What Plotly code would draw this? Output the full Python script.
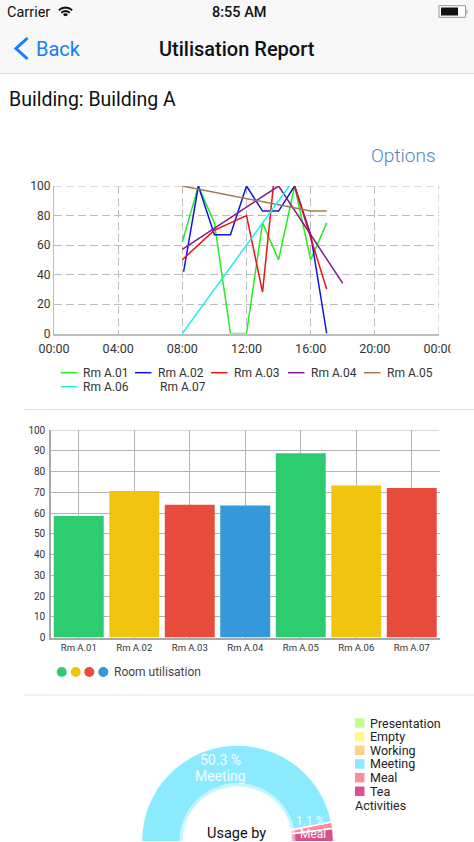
import numpy as np
import plotly.graph_objects as go

FIG_W = 474
FIG_H = 842
FONT = "Roboto"

# line chart
hours_a01 = [8, 9, 10, 11, 12, 13, 14, 15, 16, 17]
util_a01 = [62, 100, 75, 0, 0, 75, 50, 100, 50, 75]
hours_a02 = [8.08, 9, 10, 11, 12, 13, 14, 15, 16, 17]
util_a02 = [42, 100, 67, 67, 100, 83, 83, 100, 67, 0]
hours_a03 = [8, 9, 10, 11, 12, 13, 14, 15, 16, 17]
util_a03 = [50, 60, 70, 75, 80, 28, 135, 100, 65, 30]
hours_a04 = [8, 14, 18]
util_a04 = [57, 100, 34]
hours_a05 = [8, 16, 17]
util_a05 = [100, 83, 83]
hours_a06 = [8, 15]
util_a06 = [0, 105]
line_colors = ["#22ee22", "#1111ee", "#ee1111", "#7f1a8c", "#a5794f", "#22eeee", "#ffffff"]
hour_ticks = [0, 4, 8, 12, 16, 20, 24]
hour_labels = ["00:00", "04:00", "08:00", "12:00", "16:00", "20:00", "00:00"]

# bar chart
rooms = ["Rm A.01", "Rm A.02", "Rm A.03", "Rm A.04", "Rm A.05", "Rm A.06", "Rm A.07"]
room_util = [58.6, 70.6, 64, 63.6, 88.8, 73.2, 72]
bar_colors = ["#2ecc71", "#f1c40f", "#e74c3c", "#3498db", "#2ecc71", "#f1c40f", "#e74c3c"]

# donut, only the top half can be read, the other shares are guesses
activities = ["Presentation", "Empty", "Working", "Meeting", "Meal", "Tea"]
activity_share = [24.0, 12.0, 6.0, 50.3, 1.1, 6.6]
activity_colors = ["#c0ff8c", "#fff78c", "#ffd08c", "#8ceaff", "#ff8c9d", "#d9508a"]


def px(x):
    return x / FIG_W


def py(y):
    return 1 - y / FIG_H


fig = go.Figure()

series = [(hours_a01, util_a01), (hours_a02, util_a02), (hours_a03, util_a03),
          (hours_a04, util_a04), (hours_a05, util_a05), (hours_a06, util_a06)]
for i, (hrs, vals) in enumerate(series):
    fig.add_trace(go.Scatter(x=hrs, y=vals, mode="lines", name=rooms[i], xaxis="x", yaxis="y",
                             line=dict(color=line_colors[i], width=1.5), showlegend=False))

fig.add_trace(go.Bar(x=rooms, y=room_util, xaxis="x2", yaxis="y2", marker=dict(color=bar_colors, line_width=0),
                     width=0.9, showlegend=False))

# donut as polar bars: a half sector lets the ring run off the bottom of the page
share = np.array(activity_share)
widths = share / share.sum() * 360
ends = -102.5 - widths[:3].sum() + np.cumsum(widths)
mids = ends - widths / 2
fig.add_trace(go.Barpolar(theta=mids, width=widths, r=[1] * len(widths), subplot="polar", name="Activities",
                          marker=dict(color=activity_colors, line=dict(color="white", width=1.5)),
                          showlegend=False, hoverinfo="skip"))
# paler inner rim of the ring
fig.add_trace(go.Barpolar(theta=[0], width=[180], r=[4 / 42], subplot="polar",
                          marker=dict(color="rgba(255,255,255,0.5)", line_width=0),
                          showlegend=False, hoverinfo="skip"))

grid = "#bdbdbd"
bar_grid = "#b4b4b4"
grid_dash = "8px,4px"
shapes = [
    # nav bar
    dict(type="rect", xref="paper", yref="paper", x0=0, x1=1, y0=py(73), y1=py(0), fillcolor="#f8f8f8", line_width=0, layer="below"),
    dict(type="line", xref="paper", yref="paper", x0=0, x1=1, y0=py(73.5), y1=py(73.5), line=dict(color="#dcdcdc", width=1)),
    # section dividers
    dict(type="line", xref="paper", yref="paper", x0=px(24), x1=1, y0=py(409.5), y1=py(409.5), line=dict(color="#e4e4e4", width=1)),
    dict(type="line", xref="paper", yref="paper", x0=px(24), x1=1, y0=py(695), y1=py(695), line=dict(color="#e4e4e4", width=1)),
    # line chart canvas stops here and cuts the last tick label
    dict(type="rect", xref="paper", yref="paper", x0=px(450.5), x1=1, y0=py(355), y1=py(337), fillcolor="white", line_width=0),
    # grid lines on the range ends, plotly leaves these out
    dict(type="line", xref="x", yref="y", x0=0, x1=24, y0=100, y1=100, line=dict(color=grid, width=1, dash=grid_dash), layer="below"),
    dict(type="line", xref="x", yref="y", x0=24, x1=24, y0=0, y1=100, line=dict(color=grid, width=1, dash=grid_dash), layer="below"),
    dict(type="line", xref="x2", yref="y2", x0=-0.5, x1=6.5, y0=100, y1=100, line=dict(color=bar_grid, width=1.2), layer="below"),
]


def add_path(points, color, width):
    d = "M " + " L ".join(f"{px(x):.5f},{py(y):.5f}" for x, y in points)
    shapes.append(dict(type="path", xref="paper", yref="paper", path=d, line=dict(color=color, width=width)))


# back chevron
add_path([(27.5, 38), (16, 48.5), (27.5, 59)], "#147efb", 3)

# wifi glyph
for rad, w in [(9.5, 2.0), (6, 2.0), (2.5, 2.6)]:
    ang = np.radians(np.array([-45, -22, 0, 22, 45]))
    add_path(list(zip(65.5 + rad * np.sin(ang), 17 - rad * np.cos(ang))), "#111111", w)

# battery
shapes.append(dict(type="rect", xref="paper", yref="paper", x0=px(439), x1=px(465.5), y0=py(17.3), y1=py(5.7),
                   line=dict(color="#999999", width=1), fillcolor="white"))
shapes.append(dict(type="rect", xref="paper", yref="paper", x0=px(441), x1=px(458), y0=py(15.5), y1=py(7.5),
                   line_width=0, fillcolor="#111111"))
shapes.append(dict(type="rect", xref="paper", yref="paper", x0=px(466.5), x1=px(467.5), y0=py(14), y1=py(9.5),
                   line_width=0, fillcolor="#999999"))

# room utilisation legend dots
for dot_x, dot_color in zip([61.7, 75.7, 89.3, 103.3], bar_colors):
    shapes.append(dict(type="circle", xref="paper", yref="paper", x0=px(dot_x - 5), x1=px(dot_x + 5),
                       y0=py(672 + 5), y1=py(672 - 5), fillcolor=dot_color, line_width=0))


def label(x, y, text, size, color="#111111", anchor="left", weight=None):
    font = dict(family=FONT, size=size, color=color)
    if weight:
        font["weight"] = weight
    return dict(xref="paper", yref="paper", x=px(x), y=py(y), text=text, showarrow=False,
                xanchor=anchor, yanchor="middle", font=font, borderpad=0, borderwidth=0)


annotations = [
    label(7, 12, "Carrier", 14.5),
    label(239, 12, "8:55 AM", 14.5, anchor="center", weight=500),
    label(36, 48.5, "Back", 20, color="#147efb"),
    label(237, 48.5, "Utilisation Report", 20, anchor="center", weight=500),
    label(9, 99, "Building: Building A", 19.5),
    label(371, 155.5, "Options", 19, color="#4f86b8", weight=300),
    label(114, 672, "Room utilisation", 12, color="#444444"),
    label(236.7, 833, "Usage by", 14.5, anchor="center"),
    label(220, 760, "50.3 %", 14, color="#f4fdff", anchor="center"),
    label(220.5, 775.5, "Meeting", 14, color="#f4fdff", anchor="center"),
    label(310.5, 820.5, "1.1 %", 12, color="#f4fdff", anchor="center"),
    label(313, 834, "Meal", 12, color="#f4fdff", anchor="center"),
]

# line chart legend
legend_line_x = [60.7, 135, 211, 288, 364, 60.7]
legend_rows = [372.7, 372.7, 372.7, 372.7, 372.7, 386.7]
legend_text_x = [83, 157.5, 234, 310.5, 387, 83, 160]
for i, lx in enumerate(legend_line_x):
    shapes.append(dict(type="line", xref="paper", yref="paper", x0=px(lx), x1=px(lx + 16.5), y0=py(legend_rows[i]), y1=py(legend_rows[i]),
                       line=dict(color=line_colors[i], width=1.5)))
for i, tx in enumerate(legend_text_x):
    annotations.append(label(tx, 386.7 if i >= 5 else 372.7, rooms[i], 12, color="#333333"))

# donut legend
for i, name in enumerate(activities):
    row_y = 723 + i * 13.65
    shapes.append(dict(type="rect", xref="paper", yref="paper", x0=px(355), x1=px(364.5), y0=py(row_y + 4.7), y1=py(row_y - 4.7),
                       fillcolor=activity_colors[i], line_width=0))
    annotations.append(label(370, row_y, name, 12.5, color="#222222"))
annotations.append(label(355, 805, "Activities", 12.5, color="#222222"))

fig.update_layout(
    width=FIG_W, height=FIG_H, margin=dict(l=0, r=0, t=0, b=0, pad=0), paper_bgcolor="white", plot_bgcolor="white",
    font=dict(family=FONT, size=12, color="#333333"), showlegend=False,
    shapes=shapes, annotations=annotations,
    xaxis=dict(domain=[px(54), px(439)], range=[0, 24], tickvals=hour_ticks, ticktext=hour_labels, anchor="y", automargin=False,
               showgrid=True, gridcolor=grid, griddash=grid_dash, gridwidth=1, showline=True, linecolor=grid, linewidth=2,
               zeroline=False, ticks="", ticklabelstandoff=2, tickfont=dict(size=12.5, color="#333333")),
    yaxis=dict(domain=[py(333.5), py(186)], range=[0, 100], tickvals=[0, 20, 40, 60, 80, 100], anchor="x", automargin=False,
               showgrid=True, gridcolor=grid, griddash=grid_dash, gridwidth=1, showline=True, linecolor=grid, linewidth=1,
               zeroline=False, ticks="", tickfont=dict(size=12, color="#333333")),
    xaxis2=dict(domain=[px(51), px(439.5)], range=[-0.5, 6.5], anchor="y2", automargin=False, showgrid=True, gridcolor=bar_grid, gridwidth=1.2,
                showline=True, linecolor="#a8a8a8", linewidth=1.5, ticks="", tickfont=dict(size=9.5, color="#333333")),
    yaxis2=dict(domain=[py(637.5), py(430)], range=[0, 100], dtick=10, anchor="x2", automargin=False, showgrid=True, gridcolor=bar_grid, gridwidth=1.2,
                showline=True, linecolor="#a8a8a8", linewidth=1.5, zeroline=False, ticks="", ticklabelstandoff=2,
                tickfont=dict(size=10, color="#333333")),
    polar=dict(domain=dict(x=[px(141.5), px(333.5)], y=[py(841), py(745)]), sector=[0, 180], hole=54 / 96,
               barmode="overlay", bgcolor="rgba(0,0,0,0)",
               radialaxis=dict(visible=False, range=[0, 1]),
               angularaxis=dict(visible=False, direction="clockwise", rotation=90)),
)

fig.write_html("out.html", config=dict(displayModeBar=False),
               post_script="document.body.style.margin='0';")
